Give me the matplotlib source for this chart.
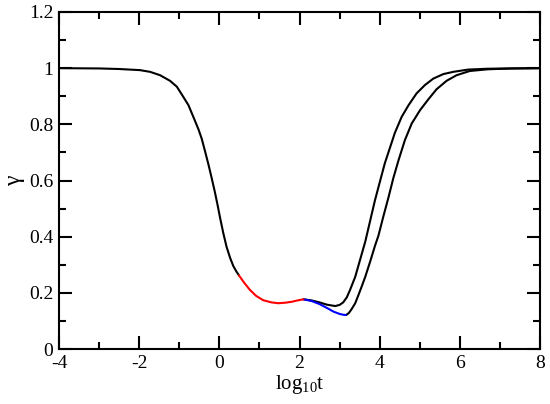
import numpy as np
import matplotlib
matplotlib.use('Agg')
import matplotlib.pyplot as plt
import matplotlib.ticker as ticker

plt.rcParams['font.family'] = ['Liberation Serif', 'DejaVu Serif']
plt.rcParams['mathtext.default'] = 'regular'

# common part of both curves (log10 t, gamma)
x_common = [-4.0, -3.0, -2.5, -1.98, -1.73, -1.48, -1.23, -1.06, -0.90, -0.77,
            -0.65, -0.52, -0.44, -0.36, -0.27, -0.19, -0.11, -0.04, 0.02, 0.10,
            0.18, 0.27, 0.35, 0.43, 0.49]
y_common = [1.000, 0.999, 0.997, 0.993, 0.987, 0.975, 0.955, 0.934, 0.898, 0.868,
            0.827, 0.782, 0.749, 0.706, 0.656, 0.608, 0.558, 0.510, 0.466, 0.412,
            0.364, 0.324, 0.295, 0.275, 0.262]

# red section
x_red = [0.49, 0.62, 0.76, 0.92, 1.09, 1.30, 1.47, 1.65, 1.80, 1.95, 2.10]
y_red = [0.262, 0.236, 0.211, 0.189, 0.174, 0.166, 0.163, 0.165, 0.168, 0.173, 0.177]

# upper branch after split
x_up = [2.10, 2.30, 2.50, 2.68, 2.89, 3.00, 3.09, 3.18, 3.26, 3.39, 3.51, 3.64,
        3.76, 3.88, 4.01, 4.13, 4.26, 4.38, 4.55, 4.72, 4.92, 5.13, 5.34, 5.59,
        5.84, 6.21, 6.7, 7.3, 8.0]
y_up = [0.177, 0.173, 0.166, 0.158, 0.153, 0.157, 0.166, 0.184, 0.210, 0.257, 0.317, 0.382,
        0.455, 0.528, 0.598, 0.662, 0.718, 0.770, 0.827, 0.868, 0.910, 0.940, 0.963, 0.979,
        0.987, 0.995, 0.998, 0.999, 1.000]

# blue section of lower branch
x_blue = [2.10, 2.30, 2.50, 2.70, 2.85, 3.00, 3.09, 3.16]
y_blue = [0.177, 0.171, 0.160, 0.145, 0.133, 0.125, 0.122, 0.121]

# rest of lower branch
x_low = [3.16, 3.23, 3.30, 3.39, 3.47, 3.55, 3.64, 3.76, 3.88, 3.97, 4.09, 4.22,
         4.34, 4.47, 4.63, 4.80, 5.01, 5.22, 5.42, 5.67, 5.92, 6.25, 6.7, 7.3, 8.0]
y_low = [0.121, 0.128, 0.142, 0.163, 0.192, 0.222, 0.257, 0.310, 0.366, 0.404, 0.471, 0.540,
         0.608, 0.672, 0.744, 0.803, 0.851, 0.890, 0.925, 0.955, 0.975, 0.990, 0.996, 0.999, 1.000]

fig = plt.figure(figsize=(5.5, 4.04), dpi=100)
ax = fig.add_axes([0.1073, 0.1361, 0.8745, 0.8342])

lw = 1.5
kw = dict(lw=lw, solid_joinstyle='round', solid_capstyle='round')
ax.plot(x_common, y_common, color='black', **kw)
ax.plot(x_up, y_up, color='black', **kw)
ax.plot(x_low, y_low, color='black', **kw)
ax.plot(x_blue, y_blue, color='blue', **kw)
ax.plot(x_red, y_red, color='red', **kw)

ax.set_xlim(-4, 8)
ax.set_ylim(0, 1.2)
ax.xaxis.set_major_locator(ticker.MultipleLocator(2))
ax.xaxis.set_minor_locator(ticker.MultipleLocator(1))
ax.yaxis.set_major_locator(ticker.MultipleLocator(0.2))
ax.yaxis.set_minor_locator(ticker.MultipleLocator(0.1))
ax.yaxis.set_major_formatter(ticker.FormatStrFormatter('%g'))
ax.xaxis.set_major_formatter(ticker.FormatStrFormatter('%g'))

ax.tick_params(which='both', direction='in', top=True, right=True, width=1.5,
               labelsize=14)
ax.tick_params(which='major', length=9.5, pad=4)
ax.tick_params(which='minor', length=5)
for s in ax.spines.values():
    s.set_linewidth(1.5)

ax.set_xlabel('log$_{10}$t', fontsize=15, labelpad=1)
ax.set_ylabel('γ', fontsize=17, labelpad=3)

fig.savefig('out.png', dpi=100)
